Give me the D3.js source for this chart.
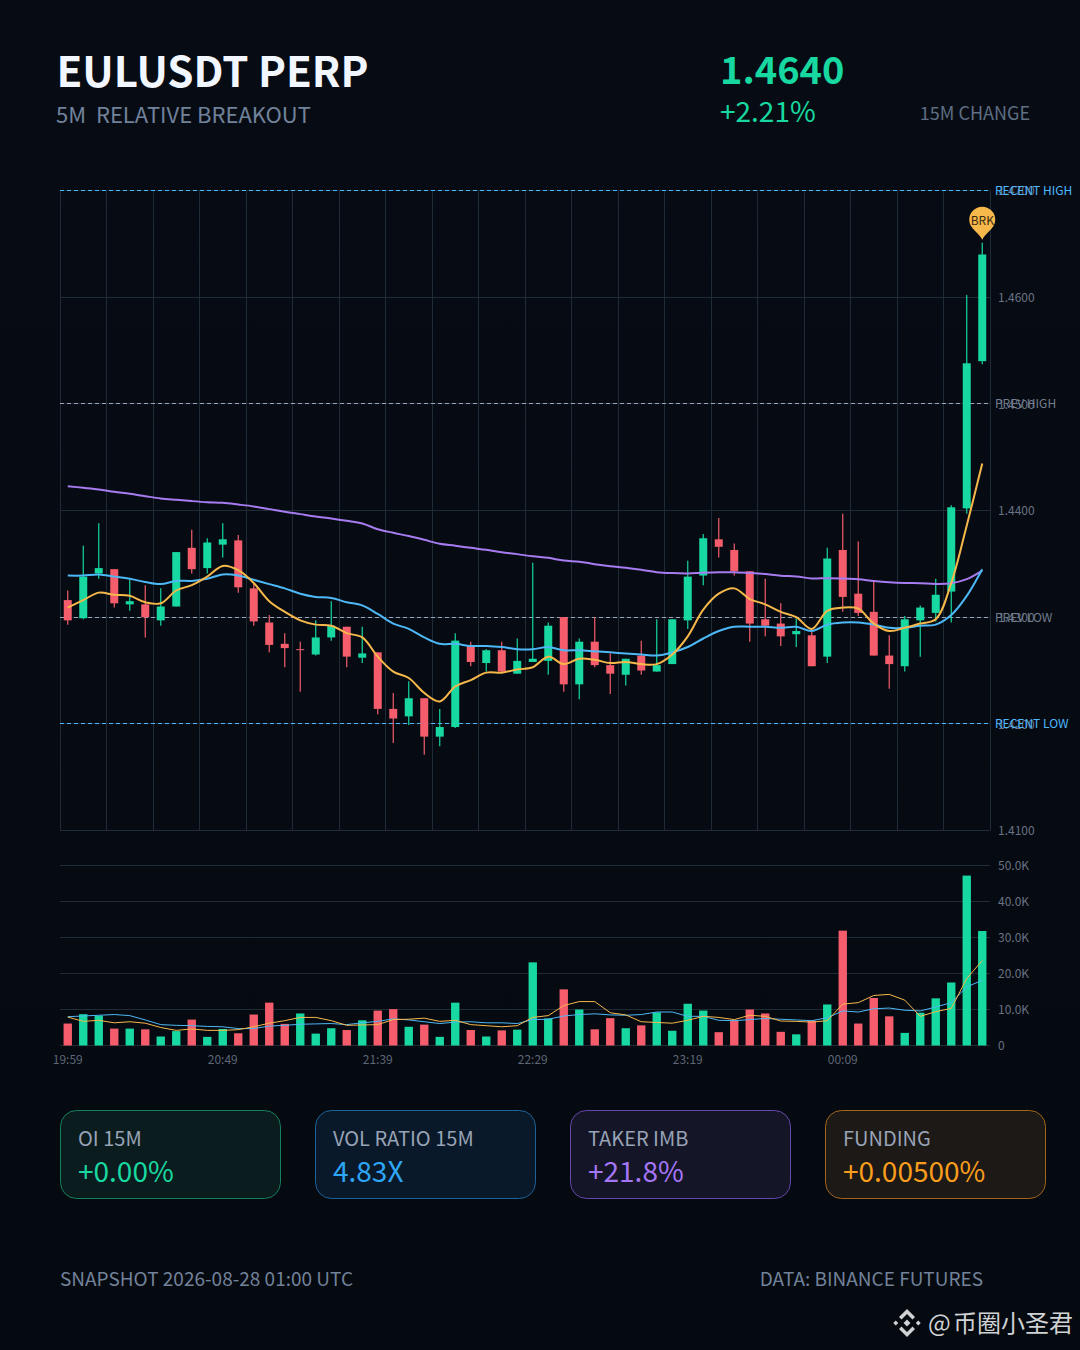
<!DOCTYPE html>
<html>
<head>
<meta charset="utf-8">
<script src="https://cdn.jsdelivr.net/npm/d3@7"></script>
<style>
  html, body { margin: 0; padding: 0; background: #060a12; }
  svg { display: block; }
  text { font-family: "Noto Sans CJK SC", "Noto Sans", sans-serif; white-space: pre; }
</style>
</head>
<body>
<svg id="chart"></svg>
<script>
const times = ["19:59","20:04","20:09","20:14","20:19","20:24","20:29","20:34","20:39","20:44",
  "20:49","20:54","20:59","21:04","21:09","21:14","21:19","21:24","21:29","21:34",
  "21:39","21:44","21:49","21:54","21:59","22:04","22:09","22:14","22:19","22:24",
  "22:29","22:34","22:39","22:44","22:49","22:54","22:59","23:04","23:09","23:14",
  "23:19","23:24","23:29","23:34","23:39","23:44","23:49","23:54","23:59","00:04",
  "00:09","00:14","00:19","00:24","00:29","00:34","00:39","00:44","00:49","00:54"];
const opens = [1.4316,1.4299,1.4341,1.4345,1.4312,1.4312,1.4297,1.4310,1.4365,1.4346,
  1.4368,1.4372,1.4327,1.4295,1.4275,1.4270,1.4265,1.4281,1.4291,1.4262,
  1.4267,1.4214,1.4207,1.4224,1.4188,1.4197,1.4273,1.4257,1.4269,1.4247,
  1.4258,1.4259,1.4300,1.4237,1.4277,1.4255,1.4246,1.4264,1.4249,1.4256,
  1.4297,1.4339,1.4373,1.4363,1.4343,1.4298,1.4294,1.4284,1.4283,1.4263,
  1.4363,1.4322,1.4305,1.4264,1.4254,1.4297,1.4304,1.4324,1.4402,1.4540];
const closes = [1.4297,1.4338,1.4346,1.4313,1.4315,1.4300,1.4310,1.4361,1.4345,1.4370,
  1.4373,1.4328,1.4296,1.4274,1.4271,1.4270,1.4281,1.4292,1.4263,1.4266,
  1.4214,1.4205,1.4224,1.4188,1.4197,1.4278,1.4258,1.4269,1.4249,1.4259,
  1.4261,1.4292,1.4237,1.4277,1.4255,1.4247,1.4261,1.4250,1.4255,1.4298,
  1.4338,1.4374,1.4366,1.4343,1.4294,1.4292,1.4282,1.4287,1.4254,1.4355,
  1.4319,1.4304,1.4264,1.4256,1.4298,1.4309,1.4321,1.4403,1.4538,1.4640];
const highs = [1.4325,1.4367,1.4388,1.4345,1.4335,1.4330,1.4327,1.4361,1.4382,1.4374,
  1.4388,1.4377,1.4332,1.4302,1.4285,1.4277,1.4297,1.4315,1.4291,1.4291,
  1.4267,1.4229,1.4240,1.4224,1.4214,1.4285,1.4277,1.4270,1.4277,1.4280,
  1.4351,1.4295,1.4300,1.4280,1.4300,1.4266,1.4261,1.4278,1.4298,1.4298,
  1.4353,1.4378,1.4393,1.4369,1.4343,1.4336,1.4313,1.4299,1.4286,1.4365,
  1.4397,1.4371,1.4333,1.4283,1.4301,1.4311,1.4336,1.4405,1.4602,1.4651];
const lows = [1.4293,1.4298,1.4336,1.4309,1.4306,1.4281,1.4292,1.4310,1.4341,1.4341,
  1.4356,1.4323,1.4292,1.4267,1.4253,1.4230,1.4264,1.4278,1.4253,1.4257,
  1.4209,1.4182,1.4199,1.4171,1.4179,1.4196,1.4254,1.4249,1.4248,1.4247,
  1.4258,1.4246,1.4230,1.4223,1.4253,1.4228,1.4236,1.4246,1.4249,1.4256,
  1.4289,1.4330,1.4356,1.4339,1.4277,1.4282,1.4273,1.4272,1.4254,1.4257,
  1.4305,1.4301,1.4264,1.4233,1.4249,1.4263,1.4296,1.4295,1.4397,1.4537];
const maFast = [1.4309,1.4316,1.4323,1.4321,1.4320,1.4314,1.4313,1.4325,1.4330,1.4338,
  1.4348,1.4344,1.4332,1.4315,1.4305,1.4297,1.4293,1.4292,1.4285,1.4281,
  1.4263,1.4249,1.4243,1.4229,1.4221,1.4235,1.4241,1.4248,1.4248,1.4251,
  1.4253,1.4263,1.4256,1.4261,1.4260,1.4257,1.4258,1.4256,1.4256,1.4265,
  1.4282,1.4307,1.4322,1.4327,1.4317,1.4312,1.4305,1.4300,1.4289,1.4306,
  1.4309,1.4308,1.4294,1.4287,1.4290,1.4294,1.4298,1.4332,1.4386,1.4444];
const maMid = [1.4339,1.4339,1.4340,1.4338,1.4336,1.4333,1.4331,1.4334,1.4334,1.4336,
  1.4340,1.4339,1.4335,1.4331,1.4327,1.4322,1.4319,1.4318,1.4314,1.4311,
  1.4303,1.4294,1.4289,1.4281,1.4275,1.4275,1.4273,1.4273,1.4272,1.4270,
  1.4270,1.4272,1.4269,1.4269,1.4268,1.4267,1.4266,1.4265,1.4264,1.4267,
  1.4272,1.4280,1.4287,1.4291,1.4291,1.4291,1.4290,1.4291,1.4287,1.4293,
  1.4295,1.4295,1.4293,1.4290,1.4290,1.4292,1.4293,1.4302,1.4320,1.4345];
const maSlow = [1.44228,1.44213,1.44197,1.44175,1.44156,1.44134,1.44113,1.44100,1.44088,1.44078,
  1.44072,1.44056,1.44038,1.44013,1.43988,1.43966,1.43944,1.43925,1.43903,1.43878,
  1.43825,1.43791,1.43760,1.43725,1.43688,1.43670,1.43650,1.43631,1.43609,1.43591,
  1.43570,1.43556,1.43531,1.43520,1.43497,1.43478,1.43463,1.43444,1.43422,1.43413,
  1.43410,1.43416,1.43420,1.43420,1.43417,1.43404,1.43388,1.43382,1.43363,1.43366,
  1.43363,1.43356,1.43340,1.43328,1.43321,1.43318,1.43312,1.43318,1.43356,1.43436];
const volumes = [6100,8700,8300,4700,4700,4500,2500,4000,7200,2400,
  4600,3400,8600,11900,6000,8900,3300,4800,4300,7000,
  9700,10100,5200,5800,2400,11900,4300,2500,4200,4400,
  23100,7500,15600,10000,4500,7600,4800,5600,9200,4100,
  11600,9700,3700,7000,10000,8900,3800,3100,6900,11400,
  31900,6100,13200,8100,3500,9100,13100,17500,47200,31800];
const volFast = [7900,6700,7000,6300,6600,6200,5000,4200,4600,4200,
  4200,4400,5200,6200,6900,7800,7800,6900,5600,5700,
  5800,7200,7300,7600,6700,7000,5800,5500,5200,5500,
  7800,8300,11100,12200,12200,9100,8500,6600,6400,6200,
  7000,8100,7800,7200,8400,8100,6800,6700,6500,6900,
  11500,11900,13900,14200,12600,8100,9400,10300,18600,23600];
const volSlow = [8000,8200,8400,8600,8300,7100,5800,5600,5500,5300,
  5200,4700,4700,5400,5600,5900,6000,6100,5800,6300,
  6700,7400,7100,6600,6100,6500,6600,6300,6300,6100,
  7200,7300,8200,8600,8800,8500,8400,8600,9300,9300,
  8100,8100,7000,6900,7200,7500,7300,7100,6900,7700,
  9600,9300,10200,10400,9800,9600,10700,11900,16300,18100];

const priceTicks = [1.47, 1.46, 1.45, 1.44, 1.43, 1.42, 1.41];
const volTicks = [0, 10000, 20000, 30000, 40000, 50000];
const levelPrices = [1.47, 1.45, 1.43, 1.42];
const levelNames = ["RECENT HIGH", "PREV HIGH", "PREV LOW", "RECENT LOW"];
const cardLabels = ["OI 15M", "VOL RATIO 15M", "TAKER IMB", "FUNDING"];
const cardValues = ["+0.00%", "4.83X", "+21.8%", "+0.00500%"];

const green = "#17d8a0", red = "#f65d6c", amber = "#f7b84b", sky = "#4db8f5", violet = "#a67cf0";
const gridColor = "#202b38", axisText = "#697383";
const levelColors = ["#4db8ff", "#9aa6ba", "#9aa6ba", "#4db8ff"];
const levelTextColors = ["#4db8ff", "#727d8e", "#727d8e", "#4db8ff"];
const cardColors = [
  { fill: "#0b1c1e", stroke: "#13805f", value: "#19d8a1" },
  { fill: "#0a1929", stroke: "#1d6299", value: "#2ea6f7" },
  { fill: "#151528", stroke: "#6647ab", value: "#a476f7" },
  { fill: "#1d1916", stroke: "#a3661b", value: "#f99d1c" }
];

const svg = d3.select("#chart").attr("width", 1080).attr("height", 1350);

const defs = svg.append("defs");
const bgGrad = defs.append("linearGradient").attr("id", "bg").attr("x1", 0).attr("x2", 0).attr("y1", 0).attr("y2", 1);
bgGrad.append("stop").attr("offset", "0%").attr("stop-color", "#070c14");
bgGrad.append("stop").attr("offset", "100%").attr("stop-color", "#050910");
svg.append("rect").attr("width", 1080).attr("height", 1350).attr("fill", "url(#bg)");

// scales
const xScale = d3.scaleBand().domain(times).range([60, 990]).paddingInner(0.46).paddingOuter(0.23);
const xMid = t => xScale(t) + xScale.bandwidth() / 2;
const yPrice = d3.scaleLinear().domain([1.41, 1.47]).range([830.5, 190.5]);
const yVol = d3.scaleLinear().domain([0, 50000]).range([1045.5, 865.5]);
const snap = v => Math.floor(v) + 0.5;

// header
const label = (x, y, txt, size, fill, weight, anchor) => svg.append("text")
  .attr("x", x).attr("y", y).attr("fill", fill).attr("text-anchor", anchor || "start")
  .style("font-size", size + "px").style("font-weight", weight || 400).text(txt);

label(56.5, 87, "EULUSDT PERP", 42, "#f2f6ff", 700);
label(56, 123, "5M  RELATIVE BREAKOUT", 22, "#71829b");
label(720, 83.5, "1.4640", 38, green, 700);
label(720, 122, "+2.21%", 28, green);
label(1030, 120, "15M CHANGE", 18, "#5f6e82", 400, "end");

// price grid
const step = xScale.step();
const gridG = svg.append("g");
gridG.selectAll("line.v").data(d3.range(0, 61, 3)).enter().append("line")
  .attr("class", "v")
  .attr("x1", d => snap(60 + d * step)).attr("x2", d => snap(60 + d * step))
  .attr("y1", yPrice(1.47)).attr("y2", yPrice(1.41))
  .attr("stroke", gridColor);
gridG.selectAll("line.h").data(priceTicks).enter().append("line")
  .attr("class", "h")
  .attr("x1", 60).attr("x2", 990)
  .attr("y1", d => snap(yPrice(d))).attr("y2", d => snap(yPrice(d)))
  .attr("stroke", gridColor);

// level lines
gridG.selectAll("line.level").data(levelPrices).enter().append("line")
  .attr("class", "level")
  .attr("x1", 60).attr("x2", 990)
  .attr("y1", d => snap(yPrice(d))).attr("y2", d => snap(yPrice(d)))
  .attr("stroke", (d, i) => levelColors[i])
  .attr("stroke-dasharray", "4 3");

// price axis
const priceAxis = svg.append("g").attr("transform", "translate(990,0.5)")
  .call(d3.axisRight(yPrice).tickValues(priceTicks).tickSize(0).tickPadding(8).tickFormat(d3.format(".4f")));
priceAxis.select(".domain").remove();
priceAxis.selectAll("text").attr("fill", axisText).style("font-size", "12px").style("font-family", "\"Noto Sans CJK SC\"");

svg.selectAll("text.level").data(levelPrices).enter().append("text")
  .attr("class", "level")
  .attr("x", 995).attr("y", d => yPrice(d) + 4.5)
  .attr("fill", (d, i) => levelTextColors[i])
  .style("font-size", "12px")
  .text((d, i) => levelNames[i]);

// candles
const idx = d3.range(times.length);
const isUp = i => closes[i] > opens[i];
const candleG = svg.append("g");
candleG.selectAll("line").data(idx).enter().append("line")
  .attr("x1", i => xMid(times[i])).attr("x2", i => xMid(times[i]))
  .attr("y1", i => yPrice(highs[i])).attr("y2", i => yPrice(lows[i]))
  .attr("stroke-width", 1.2)
  .attr("stroke", i => isUp(i) ? green : red);
candleG.selectAll("rect").data(idx).enter().append("rect")
  .attr("x", i => xMid(times[i]) - 4)
  .attr("width", 8)
  .attr("y", i => yPrice(Math.max(opens[i], closes[i])))
  .attr("height", i => Math.max(1, Math.abs(yPrice(opens[i]) - yPrice(closes[i]))))
  .attr("fill", i => isUp(i) ? green : red);

// moving averages
const priceLine = d3.line().x((d, i) => xMid(times[i])).y(d => yPrice(d)).curve(d3.curveCatmullRom.alpha(0.5));
[[maSlow, violet], [maMid, sky], [maFast, amber]].forEach(([vals, col]) => {
  svg.append("path").attr("d", priceLine(vals)).attr("fill", "none").attr("stroke", col).attr("stroke-width", 2);
});

// breakout pin over the last candle
const pinG = svg.append("g")
  .attr("transform", `translate(${xMid(times[59])},${yPrice(highs[59]) - 3})`);
pinG.append("path")
  .attr("d", "M0,0 C-3,-7 -13,-11 -13,-20 A13,13 0 1 1 13,-20 C13,-11 3,-7 0,0 Z")
  .attr("fill", amber);
pinG.append("text").attr("y", -15).attr("text-anchor", "middle").attr("fill", "#3a2a10")
  .style("font-size", "12px").text("BRK");

// volume panel
const volG = svg.append("g");
volG.selectAll("line").data(volTicks).enter().append("line")
  .attr("x1", 60).attr("x2", 990)
  .attr("y1", d => yVol(d)).attr("y2", d => yVol(d))
  .attr("stroke", gridColor);
volG.selectAll("rect").data(idx).enter().append("rect")
  .attr("x", i => xScale(times[i]))
  .attr("width", xScale.bandwidth())
  .attr("y", i => yVol(volumes[i]))
  .attr("height", i => yVol(0) - yVol(volumes[i]))
  .attr("fill", i => closes[i] >= opens[i] ? green : red);

const volLine = d3.line().x((d, i) => xMid(times[i])).y(d => yVol(d));
[[volSlow, sky], [volFast, amber]].forEach(([vals, col]) => {
  svg.append("path").attr("d", volLine(vals)).attr("fill", "none").attr("stroke", col).attr("stroke-width", 1);
});

const volAxis = svg.append("g").attr("transform", "translate(990,0)")
  .call(d3.axisRight(yVol).tickValues(volTicks).tickSize(0).tickPadding(8)
    .tickFormat(d => d === 0 ? "0" : (d / 1000).toFixed(1) + "K"));
volAxis.select(".domain").remove();
volAxis.selectAll("text").attr("fill", axisText).style("font-size", "12px").style("font-family", "\"Noto Sans CJK SC\"");

const timeAxis = svg.append("g").attr("transform", "translate(0,1053)")
  .call(d3.axisBottom(xScale).tickValues(times.filter((d, i) => i % 10 === 0)).tickSize(0).tickPadding(2));
timeAxis.select(".domain").remove();
timeAxis.selectAll("text").attr("fill", "#5d6777").style("font-size", "12px").style("font-family", "\"Noto Sans CJK SC\"");

// stat cards
const cards = svg.selectAll("g.card").data(cardLabels).enter().append("g")
  .attr("class", "card")
  .attr("transform", (d, i) => `translate(${60.5 + i * 255},1110.5)`);
cards.append("rect").attr("width", 220).attr("height", 88).attr("rx", 16)
  .attr("fill", (d, i) => cardColors[i].fill)
  .attr("stroke", (d, i) => cardColors[i].stroke);
cards.append("text").attr("x", 17.5).attr("y", 35).attr("fill", "#98a3b6")
  .style("font-size", "20px").text(d => d);
cards.append("text").attr("x", 17.5).attr("y", 71).attr("fill", (d, i) => cardColors[i].value)
  .style("font-size", "28px").text((d, i) => cardValues[i]);

// footer
label(60, 1286, "SNAPSHOT 2026-08-28 01:00 UTC", 19, "#72829a");
label(983, 1286, "DATA: BINANCE FUTURES", 19, "#72829a", 400, "end");

// watermark
const logo = svg.append("g").attr("transform", "translate(907,1323)").attr("fill", "#d0d2d4");
logo.append("path").attr("d", "M0,-3.5 L3.5,0 L0,3.5 L-3.5,0 Z");
logo.append("path").attr("d", "M-9,-2 L-7,0 L-9,2 L-11,0 Z M9,-2 L11,0 L9,2 L7,0 Z").attr("transform", "scale(1.25)");
logo.append("path").attr("d", "M0,-14 L8,-6 L5.5,-3.5 L0,-9 L-5.5,-3.5 L-8,-6 Z");
logo.append("path").attr("d", "M0,14 L8,6 L5.5,3.5 L0,9 L-5.5,3.5 L-8,6 Z");
label(928, 1332, "@", 24, "#d0d2d4");
label(953, 1332, "币圈小圣君", 24, "#d0d2d4");
</script>
</body>
</html>
